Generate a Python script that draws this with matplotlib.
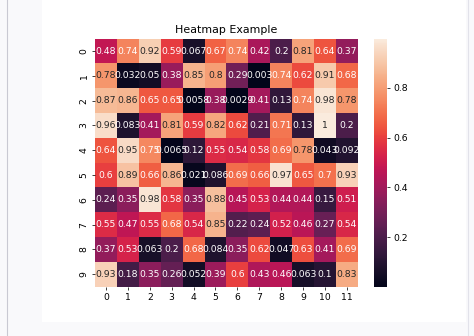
import matplotlib
matplotlib.use("Agg")
import matplotlib.pyplot as plt
import numpy as np
import seaborn as sns

rows = [str(i) for i in range(10)]
cols = [str(j) for j in range(12)]

row0 = [0.48, 0.74, 0.92, 0.59, 0.067, 0.67, 0.74, 0.42, 0.2, 0.81, 0.64, 0.37]
row1 = [0.78, 0.032, 0.05, 0.38, 0.85, 0.8, 0.29, 0.003, 0.74, 0.62, 0.91, 0.68]
row2 = [0.87, 0.86, 0.65, 0.65, 0.0058, 0.38, 0.0029, 0.41, 0.13, 0.74, 0.98, 0.78]
row3 = [0.96, 0.083, 0.41, 0.81, 0.59, 0.82, 0.62, 0.21, 0.71, 0.13, 0.996, 0.2]
row4 = [0.64, 0.95, 0.75, 0.0065, 0.12, 0.55, 0.54, 0.58, 0.69, 0.78, 0.043, 0.092]
row5 = [0.6, 0.89, 0.66, 0.86, 0.021, 0.086, 0.69, 0.66, 0.97, 0.65, 0.7, 0.93]
row6 = [0.24, 0.35, 0.98, 0.58, 0.35, 0.88, 0.45, 0.53, 0.44, 0.44, 0.15, 0.51]
row7 = [0.55, 0.47, 0.55, 0.68, 0.54, 0.85, 0.22, 0.24, 0.52, 0.46, 0.27, 0.54]
row8 = [0.37, 0.53, 0.063, 0.2, 0.68, 0.084, 0.35, 0.62, 0.047, 0.63, 0.41, 0.69]
row9 = [0.93, 0.18, 0.35, 0.26, 0.052, 0.39, 0.6, 0.43, 0.46, 0.063, 0.1, 0.83]

data = np.array([row0, row1, row2, row3, row4, row5, row6, row7, row8, row9])

W, H = 474, 336
dpi = 66.25
fig = plt.figure(figsize=(W / dpi, H / dpi), dpi=dpi, facecolor="#f9f9fb")

# white canvas of the embedded figure, plus the frame lines around it
px, py, pw, ph = 42, 14, 424, 322
fig.add_artist(plt.Rectangle((px / W, py / H), pw / W, ph / H,
                             transform=fig.transFigure, facecolor="white",
                             edgecolor="none", zorder=-5))
fig.add_artist(plt.Line2D([6.5 / W, 6.5 / W], [0, 1], transform=fig.transFigure,
                          color="#c9c9d2", lw=1.2, zorder=-4))
fig.add_artist(plt.Line2D([467.5 / W, 467.5 / W], [0, 1], transform=fig.transFigure,
                          color="#e2e2ea", lw=1.2, zorder=-4))

ax = fig.add_axes([(px + 0.125 * pw) / W, (py + 0.11 * ph) / H,
                   0.775 * pw / W, 0.77 * ph / H])
sns.heatmap(data, annot=True, ax=ax, xticklabels=cols, yticklabels=rows)
ax.set_title("Heatmap Example")

fig.savefig("out.png", dpi=dpi, facecolor=fig.get_facecolor())
